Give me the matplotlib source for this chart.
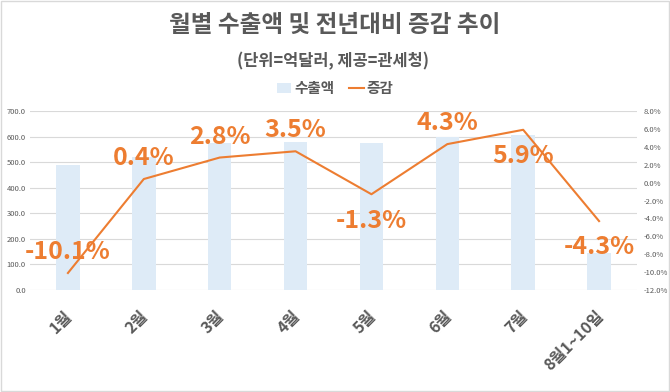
import matplotlib
matplotlib.use("Agg")
import matplotlib.pyplot as plt
import matplotlib.transforms as mtransforms
from matplotlib.patches import Patch, Rectangle
from matplotlib.lines import Line2D

plt.rcParams['font.family'] = ['Noto Sans CJK KR', 'DejaVu Sans']

categories = ['1월', '2월', '3월', '4월', '5월', '6월', '7월', '8월1~10일']
exports = [489, 521, 573, 579, 573, 599, 608, 143]
change = [-10.1, 0.4, 2.8, 3.5, -1.3, 4.3, 5.9, -4.3]
label_pos = ['above', 'above', 'above', 'above', 'below', 'above', 'below', 'below']

left_ticks = [0, 100, 200, 300, 400, 500, 600, 700]
right_ticks = [-12, -10, -8, -6, -4, -2, 0, 2, 4, 6, 8]

GRAY = '#595959'
ORANGE = '#ED7D31'
BLUE = '#DEEBF7'

fig = plt.figure(figsize=(6.7, 3.92), dpi=100)
ax = fig.add_axes([30/670, 1-290/392, 607/670, 179/392])
ax2 = ax.twinx()

x = list(range(len(categories)))
ax.bar(x, exports, width=0.31, color=BLUE, zorder=2)
ax.set_ylim(0, 700)
ax.set_xlim(-0.5, len(categories)-0.5)
ax.set_yticks(left_ticks)
ax.set_yticklabels([f'{v:.1f}' for v in left_ticks], fontsize=5.5, color=GRAY)
ax.grid(axis='y', color='#D9D9D9', linewidth=0.8, zorder=0)
ax.set_axisbelow(True)
ax.tick_params(axis='y', length=0, pad=3)
ax.tick_params(axis='x', length=0, pad=13)
ax.set_xticks(x)
ax.set_xticklabels(categories, rotation=45, ha='right', va='top', rotation_mode='anchor',
                   fontsize=11.5, fontweight='bold', color=GRAY)
shift = mtransforms.ScaledTranslation(-4/100, 0, fig.dpi_scale_trans)
for lbl in ax.get_xticklabels():
    lbl.set_transform(lbl.get_transform() + shift)

ax2.plot(x, change, color=ORANGE, linewidth=1.5, zorder=3)
ax2.set_ylim(-12, 8)
ax2.set_yticks(right_ticks)
ax2.set_yticklabels([f'{v:.1f}%' for v in right_ticks], fontsize=5.5, color=GRAY)
ax2.tick_params(axis='y', length=0, pad=5)

for xi, v, pos in zip(x, change, label_pos):
    dy = 15 if pos == 'above' else -19
    ax2.annotate(f'{v}%', (xi, v), xytext=(0, dy), textcoords='offset points',
                 ha='center', va='center', fontsize=18, fontweight='bold', color=ORANGE, zorder=4)

for a in (ax, ax2):
    for s in a.spines.values():
        s.set_visible(False)

fig.text(0.5, 1-25/392, '월별 수출액 및 전년대비 증감 추이', ha='center', va='center',
         fontsize=17, fontweight='bold', color=GRAY)
fig.text(0.497, 1-61/392, '(단위=억달러, 제공=관세청)', ha='center', va='center',
         fontsize=11.8, fontweight='bold', color=GRAY)

handles = [Patch(facecolor=BLUE, edgecolor='none'), Line2D([0], [0], color=ORANGE, linewidth=1.5)]
leg = fig.legend(handles, ['수출액', '증감'], loc='center', bbox_to_anchor=(0.5, 1-88/392), ncol=2,
                 frameon=False, prop={'size': 10.5, 'weight': 'bold'}, handlelength=1.0,
                 handletextpad=0.2, columnspacing=1.0, labelcolor=GRAY)

fig.add_artist(Rectangle((0.001, 0.003), 0.997, 0.994, transform=fig.transFigure, fill=False,
                         edgecolor='#D9D9D9', linewidth=1))

fig.savefig('out.png', dpi=100)
